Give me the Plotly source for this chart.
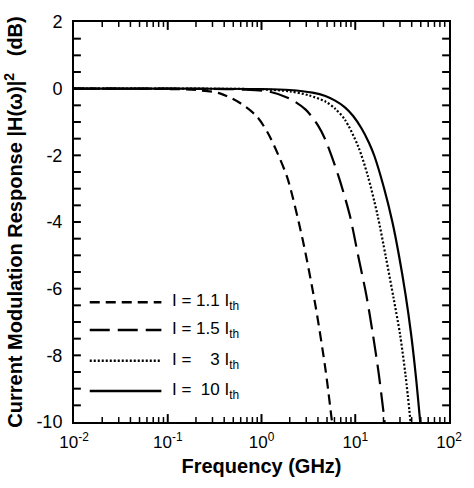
import plotly.graph_objects as go

# ---- data ----
freq_11 = [0.01, 0.03, 0.1, 0.2, 0.36, 0.59, 0.89, 1.17, 1.5, 1.9, 2.73, 3.77, 4.8, 5.65]
resp_11 = [0, -0.001, -0.01, -0.04, -0.14, -0.43, -0.83, -1.33, -1.97, -2.7, -4.49, -6.52, -8.4, -10]

freq_15 = [0.01, 0.1, 0.3, 0.6, 1.22, 2.0, 2.96, 4.0, 4.8, 6.6, 8.75, 10.7, 13.1, 15.4, 17.8, 20.6]
resp_15 = [0, -0.001, -0.006, -0.025, -0.09, -0.3, -0.63, -1.1, -1.53, -2.61, -3.80, -4.99, -6.18, -7.36, -8.55, -10]

freq_3 = [0.01, 0.1, 0.3, 1, 2, 3.2, 4.8, 6.1, 7.76, 10.7, 13.6, 17.3, 21.2, 25.7, 30.0, 34.4, 38.9]
resp_3 = [0, 0, -0.002, -0.02, -0.08, -0.2, -0.385, -0.6, -0.93, -1.72, -2.61, -3.80, -5.05, -6.3, -7.36, -8.6, -10]

freq_10 = [0.01, 0.1, 0.3, 1, 2, 3.5, 4.8, 6.1, 7.76, 9.5, 11.6, 14.0, 16.0, 20.4, 24.9, 29.2, 34.4, 39.4, 44.4, 49.3]
resp_10 = [0, 0, -0.002, -0.01, -0.04, -0.12, -0.22, -0.36, -0.56, -0.82, -1.18, -1.62, -2.02, -3.01, -4.0, -4.99, -6.18, -7.36, -8.65, -10]

labels = ["I = 1.1 I<sub>th</sub>", "I = 1.5 I<sub>th</sub>",
          "I =\u00a0\u00a0\u00a0\u00a03 I<sub>th</sub>", "I =\u00a0\u00a010 I<sub>th</sub>"]
x_tickvals = [0.01, 0.1, 1, 10, 100]
x_ticktext = ["10<sup>-2</sup>", "10<sup>-1</sup>", "10<sup>0</sup>", "10<sup>1</sup>", "10<sup>2</sup>"]
x_minorvals = [m * d for d in [0.01, 0.1, 1, 10] for m in range(2, 10)]
y_tickvals = [2, 0, -2, -4, -6, -8, -10]
y_ticktext = ["2", "0", "-2", "-4", "-6", "-8", "-10"]
y_allticks = [2 - 0.5 * i for i in range(25)]

X_RANGE = [-2, 2]   # log10 range
Y_RANGE = [-10, 2]

series = [(freq_11, resp_11, "10px,6px"),
          (freq_15, resp_15, "20px,8px"),
          (freq_3, resp_3, "2px,2px"),
          (freq_10, resp_10, "solid")]

FONT = "Liberation Sans, Arial, sans-serif"
W, H = 474, 488
ML, MR, MT, MB = 74, 18, 18, 66
px_per_dec = (W - ML - MR) / (X_RANGE[1] - X_RANGE[0])
px_per_db = (H - MT - MB) / (Y_RANGE[1] - Y_RANGE[0])

fig = go.Figure()
for (fx, fy, dash), name in zip(series, labels):
    fig.add_trace(go.Scatter(x=fx, y=fy, mode="lines", name=name,
                             line=dict(color="black", width=2.2, dash=dash,
                                       shape="spline", smoothing=0.8),
                             showlegend=False, hoverinfo="skip"))

# inside tick marks on all four sides, drawn as short line traces on the axes' own scales
def tick_trace(xs, ys, width):
    fig.add_trace(go.Scatter(x=xs, y=ys, mode="lines", showlegend=False, hoverinfo="skip",
                             line=dict(color="black", width=width)))

xmin, xmax = 10 ** X_RANGE[0], 10 ** X_RANGE[1]
ymin, ymax = Y_RANGE
for vals, length, width in ((x_tickvals[1:-1], 8, 2), (x_minorvals, 5, 1.5)):
    dy = length / px_per_db
    xs, ys = [], []
    for v in vals:
        xs += [v, v, None, v, v, None]
        ys += [ymin, ymin + dy, None, ymax, ymax - dy, None]
    tick_trace(xs, ys, width)

fx_in = 10 ** (7 / px_per_dec)
xs, ys = [], []
for v in y_allticks[1:-1]:
    xs += [xmin, xmin * fx_in, None, xmax, xmax / fx_in, None]
    ys += [v, v, None, v, v, None]
tick_trace(xs, ys, 2)

# manual legend (line samples + text), placed in paper coordinates
leg_y = [0.2995, 0.230, 0.153, 0.0775]
for (fx, fy, dash), name, yy in zip(series, labels, leg_y):
    fig.add_shape(type="line", xref="paper", yref="paper",
                  x0=0.042, x1=0.233, y0=yy, y1=yy,
                  line=dict(color="black", width=2.5, dash=dash))
    fig.add_annotation(xref="paper", yref="paper", x=0.255, y=yy,
                       xanchor="left", yanchor="middle", showarrow=False,
                       text=name, font=dict(family=FONT, size=17, color="black"))

fig.update_layout(
    width=W, height=H,
    margin=dict(l=ML, r=MR, t=MT, b=MB),
    paper_bgcolor="white", plot_bgcolor="white",
    font=dict(family=FONT, color="black"),
    xaxis=dict(type="log", range=X_RANGE,
               tickmode="array", tickvals=x_tickvals, ticktext=x_ticktext,
               ticks="", showline=True, linewidth=2, linecolor="black", mirror=True,
               showgrid=False, zeroline=False,
               tickfont=dict(family=FONT, size=17, color="black"),
               ticklabelstandoff=4,
               title=dict(text="<b>Frequency (GHz)</b>",
                          font=dict(family=FONT, size=20, color="black"), standoff=8)),
    yaxis=dict(range=Y_RANGE,
               tickmode="array", tickvals=y_tickvals, ticktext=y_ticktext,
               ticks="", showline=True, linewidth=2, linecolor="black", mirror=True,
               showgrid=False, zeroline=False,
               tickfont=dict(family=FONT, size=18, color="black"),
               ticklabelstandoff=6,
               title=dict(text="<b>Current Modulation Response |H(\u03c9)|<sup>2</sup>\u00a0\u00a0\u00a0(dB)</b>",
                          font=dict(family=FONT, size=20, color="black"), standoff=8)),
)

fig.write_html("out.html")
